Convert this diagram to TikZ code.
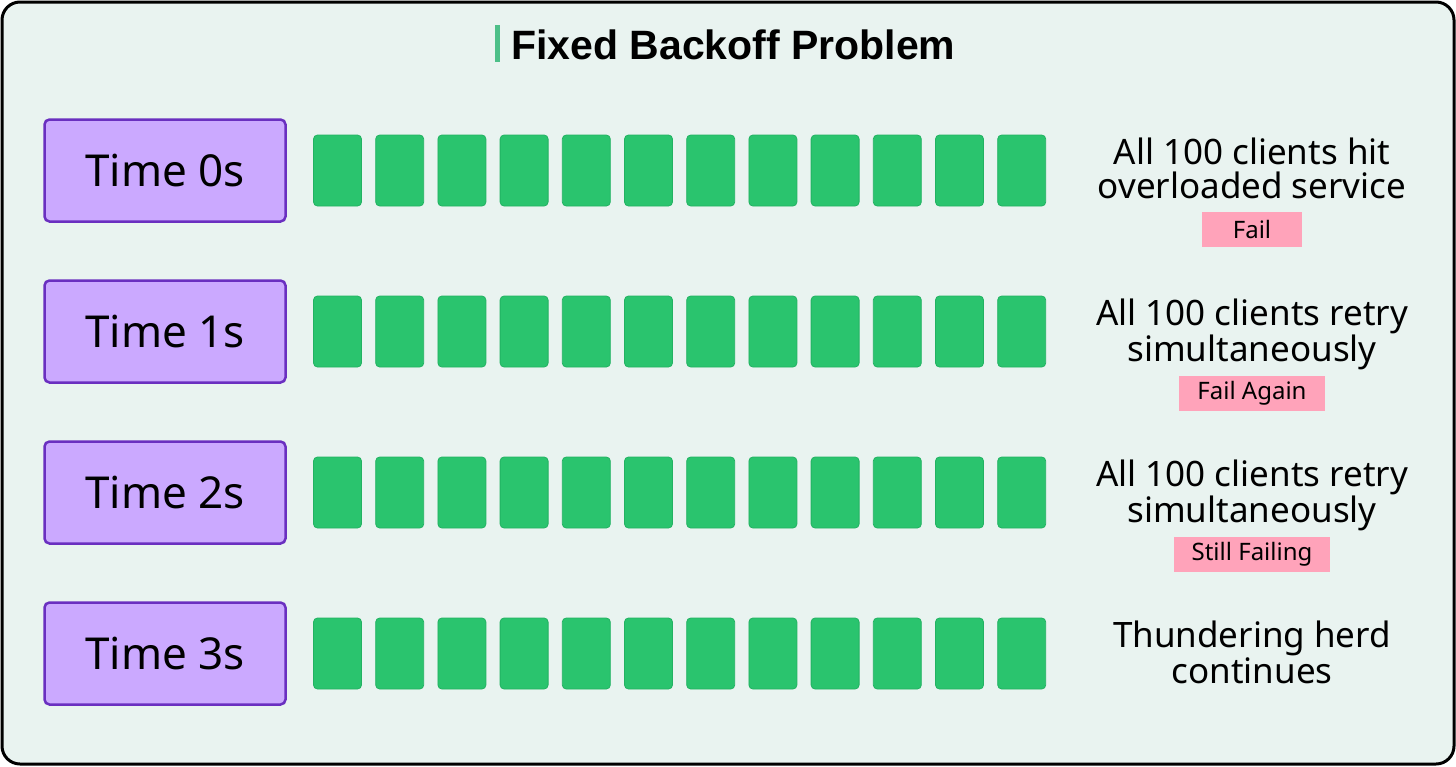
\documentclass[tikz,border=0pt]{standalone}
\usepackage{fontspec}
\setmainfont{Noto Sans}
\newfontfamily\titlefont{Liberation Sans}
\usetikzlibrary{positioning}
\definecolor{panelbg}{HTML}{E9F3F0}
\definecolor{timefill}{HTML}{CBA9FF}
\definecolor{timeline}{HTML}{6A2FC0}
\definecolor{clientfill}{HTML}{2AC46E}
\definecolor{clientline}{HTML}{22B262}
\definecolor{tagfill}{HTML}{FFA3BA}
\definecolor{titlebar}{HTML}{4DBF88}

\begin{document}
\begin{tikzpicture}[x=1pt, y=-1pt,
	timebox/.style={draw=timeline, line width=2.5pt, fill=timefill, rounded corners=5pt, minimum width=241pt, minimum height=102pt, font=\fontsize{44}{44}\selectfont},
	client/.style={draw=clientline, line width=0.8pt, fill=clientfill, rounded corners=4pt, minimum width=48pt, minimum height=71pt, inner sep=0pt},
	desc/.style={anchor=north, align=center, inner sep=0pt, font=\fontsize{35}{34}\selectfont},
	tag/.style={fill=tagfill, minimum width=100pt, minimum height=35pt, inner xsep=18pt, inner ysep=0pt, font=\fontsize{24}{24}\selectfont}]
		\useasboundingbox (0,0) rectangle (1456,766);
		\draw[line width=3pt, fill=panelbg, rounded corners=18pt] (2,2) rectangle (1454,764);
		% title
		\fill[titlebar] (495,25) rectangle (500,62);
		\node[anchor=base west, inner sep=0pt, font=\titlefont\bfseries\fontsize{41}{41}\selectfont] (title) at (511,59) {Fixed Backoff Problem};
		% time steps and the clients
		\foreach \row/\y in {0/170.5, 1/331.5, 2/492.5, 3/653.5} {
			\node[timebox] (time\row) at (165,\y) {Time \row s};
			\foreach \i in {0,...,11}
				\node[client] (client\row-\i) at ({337.5+62.2*\i},\y) {};
		}
		% what happens
		\node[desc] (desc0) at (1252,138) {All 100 clients hit\\overloaded service};
		\node[desc] (desc1) at (1252,299) {All 100 clients retry\\simultaneously};
		\node[desc] (desc2) at (1252,460) {All 100 clients retry\\simultaneously};
		\node[desc] (desc3) at (1252,621) {Thundering herd\\continues};
		\node[tag] (tag0) at (1252,229.5) {Fail};
		\node[tag] (tag1) at (1252,393) {Fail Again};
		\node[tag] (tag2) at (1252,554.5) {Still Failing};
	\end{tikzpicture}
\end{document}
